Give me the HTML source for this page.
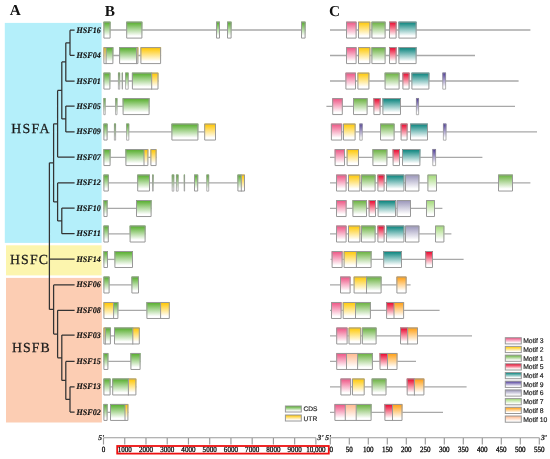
<!DOCTYPE html>
<html><head><meta charset="utf-8"><style>
html,body{margin:0;padding:0;background:#fff;}
body{width:550px;height:459px;overflow:hidden;font-family:"Liberation Sans",sans-serif;}
svg{display:block;will-change:transform;text-rendering:geometricPrecision;}
</style></head><body>
<svg width="550" height="459" viewBox="0 0 550 459">
<defs><linearGradient id="gC" x1="0" y1="0" x2="0" y2="1"><stop offset="0" stop-color="#5fb238"/><stop offset="0.08" stop-color="#5fb238"/><stop offset="0.84" stop-color="#fff"/></linearGradient><linearGradient id="gU" x1="0" y1="0" x2="0" y2="1"><stop offset="0" stop-color="#ffc90e"/><stop offset="0.08" stop-color="#ffc90e"/><stop offset="0.84" stop-color="#fff"/></linearGradient><linearGradient id="gm3" x1="0" y1="0" x2="0" y2="1"><stop offset="0" stop-color="#ef5f8c"/><stop offset="0.08" stop-color="#ef5f8c"/><stop offset="0.84" stop-color="#fff"/></linearGradient><linearGradient id="gm2" x1="0" y1="0" x2="0" y2="1"><stop offset="0" stop-color="#ffcc14"/><stop offset="0.08" stop-color="#ffcc14"/><stop offset="0.84" stop-color="#fff"/></linearGradient><linearGradient id="gm1" x1="0" y1="0" x2="0" y2="1"><stop offset="0" stop-color="#72b64a"/><stop offset="0.08" stop-color="#72b64a"/><stop offset="0.84" stop-color="#fff"/></linearGradient><linearGradient id="gm5" x1="0" y1="0" x2="0" y2="1"><stop offset="0" stop-color="#ec1439"/><stop offset="0.08" stop-color="#ec1439"/><stop offset="0.84" stop-color="#fff"/></linearGradient><linearGradient id="gm4" x1="0" y1="0" x2="0" y2="1"><stop offset="0" stop-color="#158a84"/><stop offset="0.08" stop-color="#158a84"/><stop offset="0.84" stop-color="#fff"/></linearGradient><linearGradient id="gm9" x1="0" y1="0" x2="0" y2="1"><stop offset="0" stop-color="#5846a0"/><stop offset="0.08" stop-color="#5846a0"/><stop offset="0.84" stop-color="#fff"/></linearGradient><linearGradient id="gm6" x1="0" y1="0" x2="0" y2="1"><stop offset="0" stop-color="#a09cbe"/><stop offset="0.08" stop-color="#a09cbe"/><stop offset="0.84" stop-color="#fff"/></linearGradient><linearGradient id="gm7" x1="0" y1="0" x2="0" y2="1"><stop offset="0" stop-color="#a8dc80"/><stop offset="0.08" stop-color="#a8dc80"/><stop offset="0.84" stop-color="#fff"/></linearGradient><linearGradient id="gm8" x1="0" y1="0" x2="0" y2="1"><stop offset="0" stop-color="#ffa41f"/><stop offset="0.08" stop-color="#ffa41f"/><stop offset="0.84" stop-color="#fff"/></linearGradient><linearGradient id="gm10" x1="0" y1="0" x2="0" y2="1"><stop offset="0" stop-color="#ffbd94"/><stop offset="0.08" stop-color="#ffbd94"/><stop offset="0.84" stop-color="#fff"/></linearGradient></defs>
<rect x="4.8" y="22.9" width="96.8" height="220" fill="#b4effa"/>
<rect x="6" y="245.3" width="95.6" height="30.1" fill="#fcf5ae"/>
<rect x="6" y="277.9" width="95.9" height="144.6" fill="#fccdb3"/>
<text x="9.7" y="15.4" font-family="Liberation Serif" font-weight="bold" font-size="15.3" fill="#111">A</text>
<text x="104.8" y="15.9" font-family="Liberation Serif" font-weight="bold" font-size="15.3" fill="#111">B</text>
<text x="329.1" y="15.6" font-family="Liberation Serif" font-weight="bold" font-size="15.3" fill="#111">C</text>
<text x="11.2" y="133.1" font-family="Liberation Serif" font-size="13.8" textLength="38.3" lengthAdjust="spacing" fill="#1a1a1a" stroke="#1a1a1a" stroke-width="0.25">HSFA</text>
<text x="10" y="264.4" font-family="Liberation Serif" font-size="13.8" textLength="38" lengthAdjust="spacing" fill="#1a1a1a" stroke="#1a1a1a" stroke-width="0.25">HSFC</text>
<text x="12.1" y="352" font-family="Liberation Serif" font-size="13.8" textLength="37.6" lengthAdjust="spacing" fill="#1a1a1a" stroke="#1a1a1a" stroke-width="0.25">HSFB</text>
<path d="M70 30.2H74.6M70 55.3H74.6M65.8 81.2H74.6M65.8 106H74.6M65.8 131.9H74.6M57.6 157.1H74.6M57.6 182.9H74.6M61.8 208.1H74.6M61.8 233.7H74.6M49.4 259.2H74.6M53.6 284.9H74.6M57.6 310.3H74.6M61.8 335.1H74.6M65.8 361.4H74.6M70 386.8H74.6M70 412.1H74.6M70 30.2V55.3M65.8 42.75H70M65.8 42.75V81.2M61.8 61.98H65.8M65.8 106V131.9M61.8 118.95H65.8M61.8 61.98V118.95M57.6 90.46H61.8M57.6 90.46V157.1M53.6 123.78H57.6M61.8 208.1V233.7M57.6 220.9H61.8M57.6 182.9V220.9M53.6 201.9H57.6M53.6 123.78V201.9M49.4 162.84H53.6M70 386.8V412.1M65.8 399.45H70M65.8 361.4V399.45M61.8 380.43H65.8M61.8 335.1V380.43M57.6 357.76H61.8M57.6 310.3V357.76M53.6 334.03H57.6M53.6 284.9V334.03M49.4 309.47H53.6M49.4 162.84V309.47" stroke="#333" stroke-width="1.25" fill="none"/>
<text x="76.6" y="32.7" textLength="24.2" lengthAdjust="spacingAndGlyphs" font-family="Liberation Serif" font-weight="bold" font-style="italic" font-size="8.5" fill="#111" stroke="#111" stroke-width="0.15">HSF16</text>
<text x="76.6" y="57.8" textLength="24.2" lengthAdjust="spacingAndGlyphs" font-family="Liberation Serif" font-weight="bold" font-style="italic" font-size="8.5" fill="#111" stroke="#111" stroke-width="0.15">HSF04</text>
<text x="76.6" y="83.7" textLength="24.2" lengthAdjust="spacingAndGlyphs" font-family="Liberation Serif" font-weight="bold" font-style="italic" font-size="8.5" fill="#111" stroke="#111" stroke-width="0.15">HSF01</text>
<text x="76.6" y="108.5" textLength="24.2" lengthAdjust="spacingAndGlyphs" font-family="Liberation Serif" font-weight="bold" font-style="italic" font-size="8.5" fill="#111" stroke="#111" stroke-width="0.15">HSF05</text>
<text x="76.6" y="134.4" textLength="24.2" lengthAdjust="spacingAndGlyphs" font-family="Liberation Serif" font-weight="bold" font-style="italic" font-size="8.5" fill="#111" stroke="#111" stroke-width="0.15">HSF09</text>
<text x="76.6" y="159.6" textLength="24.2" lengthAdjust="spacingAndGlyphs" font-family="Liberation Serif" font-weight="bold" font-style="italic" font-size="8.5" fill="#111" stroke="#111" stroke-width="0.15">HSF07</text>
<text x="76.6" y="185.4" textLength="24.2" lengthAdjust="spacingAndGlyphs" font-family="Liberation Serif" font-weight="bold" font-style="italic" font-size="8.5" fill="#111" stroke="#111" stroke-width="0.15">HSF12</text>
<text x="76.6" y="210.6" textLength="24.2" lengthAdjust="spacingAndGlyphs" font-family="Liberation Serif" font-weight="bold" font-style="italic" font-size="8.5" fill="#111" stroke="#111" stroke-width="0.15">HSF10</text>
<text x="76.6" y="236.2" textLength="24.2" lengthAdjust="spacingAndGlyphs" font-family="Liberation Serif" font-weight="bold" font-style="italic" font-size="8.5" fill="#111" stroke="#111" stroke-width="0.15">HSF11</text>
<text x="76.6" y="261.7" textLength="24.2" lengthAdjust="spacingAndGlyphs" font-family="Liberation Serif" font-weight="bold" font-style="italic" font-size="8.5" fill="#111" stroke="#111" stroke-width="0.15">HSF14</text>
<text x="76.6" y="287.4" textLength="24.2" lengthAdjust="spacingAndGlyphs" font-family="Liberation Serif" font-weight="bold" font-style="italic" font-size="8.5" fill="#111" stroke="#111" stroke-width="0.15">HSF06</text>
<text x="76.6" y="312.8" textLength="24.2" lengthAdjust="spacingAndGlyphs" font-family="Liberation Serif" font-weight="bold" font-style="italic" font-size="8.5" fill="#111" stroke="#111" stroke-width="0.15">HSF08</text>
<text x="76.6" y="337.6" textLength="24.2" lengthAdjust="spacingAndGlyphs" font-family="Liberation Serif" font-weight="bold" font-style="italic" font-size="8.5" fill="#111" stroke="#111" stroke-width="0.15">HSF03</text>
<text x="76.6" y="363.9" textLength="24.2" lengthAdjust="spacingAndGlyphs" font-family="Liberation Serif" font-weight="bold" font-style="italic" font-size="8.5" fill="#111" stroke="#111" stroke-width="0.15">HSF15</text>
<text x="76.6" y="389.3" textLength="24.2" lengthAdjust="spacingAndGlyphs" font-family="Liberation Serif" font-weight="bold" font-style="italic" font-size="8.5" fill="#111" stroke="#111" stroke-width="0.15">HSF13</text>
<text x="76.6" y="414.6" textLength="24.2" lengthAdjust="spacingAndGlyphs" font-family="Liberation Serif" font-weight="bold" font-style="italic" font-size="8.5" fill="#111" stroke="#111" stroke-width="0.15">HSF02</text>
<line x1="103.4" y1="30" x2="305.6" y2="30" stroke="#a8a8a8" stroke-width="1.3"/>
<rect x="103.4" y="21.6" width="7.2" height="17" fill="url(#gC)"/><path d="M103.9 22.1H110.1V38.1H103.9Z" fill="none" stroke="#989898" stroke-width="1.0"/><rect x="126.2" y="21.6" width="16.2" height="17" fill="url(#gC)"/><path d="M126.7 22.1H141.9V38.1H126.7Z" fill="none" stroke="#989898" stroke-width="1.0"/><rect x="216" y="21.6" width="4" height="17" fill="url(#gC)"/><path d="M216.5 22.1H219.5V38.1H216.5Z" fill="none" stroke="#989898" stroke-width="1.0"/><rect x="227" y="21.6" width="4.6" height="17" fill="url(#gC)"/><path d="M227.5 22.1H231.1V38.1H227.5Z" fill="none" stroke="#989898" stroke-width="1.0"/><rect x="301" y="21.6" width="4.6" height="17" fill="url(#gC)"/><path d="M301.5 22.1H305.1V38.1H301.5Z" fill="none" stroke="#989898" stroke-width="1.0"/>
<line x1="103.4" y1="55.49" x2="161.1" y2="55.49" stroke="#a8a8a8" stroke-width="1.3"/>
<rect x="103.4" y="47.09" width="2.7" height="17" fill="url(#gU)"/><rect x="106.1" y="47.09" width="7.3" height="17" fill="url(#gC)"/><path d="M103.9 47.59H112.9V63.59H103.9ZM106.1 47.09V64.09" fill="none" stroke="#989898" stroke-width="1.0"/><rect x="119.1" y="47.09" width="17.5" height="17" fill="url(#gC)"/><rect x="136.6" y="47.09" width="1.8" height="17" fill="url(#gU)"/><path d="M119.6 47.59H137.9V63.59H119.6ZM136.6 47.09V64.09" fill="none" stroke="#989898" stroke-width="1.0"/><rect x="140.4" y="47.09" width="20.7" height="17" fill="url(#gU)"/><path d="M140.9 47.59H160.6V63.59H140.9Z" fill="none" stroke="#989898" stroke-width="1.0"/>
<line x1="103.4" y1="80.98" x2="158.5" y2="80.98" stroke="#a8a8a8" stroke-width="1.3"/>
<rect x="103.4" y="72.58" width="7" height="17" fill="url(#gC)"/><path d="M103.9 73.08H109.9V89.08H103.9Z" fill="none" stroke="#989898" stroke-width="1.0"/><rect x="118" y="72.58" width="2.1" height="17" fill="url(#gC)"/><path d="M118.38 72.95H119.72V89.2H118.38Z" fill="none" stroke="#989898" stroke-width="0.75"/><rect x="121.8" y="72.58" width="1.1" height="17" fill="url(#gC)"/><path d="M122.17 72.95H122.53V89.2H122.17Z" fill="none" stroke="#989898" stroke-width="0.75"/><rect x="125.2" y="72.58" width="3.4" height="17" fill="url(#gC)"/><path d="M125.58 72.95H128.22V89.2H125.58Z" fill="none" stroke="#989898" stroke-width="0.75"/><rect x="131.9" y="72.58" width="19.8" height="17" fill="url(#gC)"/><rect x="151.7" y="72.58" width="6.8" height="17" fill="url(#gU)"/><path d="M132.4 73.08H158V89.08H132.4ZM151.7 72.58V89.58" fill="none" stroke="#989898" stroke-width="1.0"/>
<line x1="103.4" y1="106.47" x2="149.6" y2="106.47" stroke="#a8a8a8" stroke-width="1.3"/>
<rect x="103.4" y="98.07" width="2.2" height="17" fill="url(#gC)"/><path d="M103.78 98.44H105.22V114.69H103.78Z" fill="none" stroke="#989898" stroke-width="0.75"/><rect x="115.2" y="98.07" width="2.2" height="17" fill="url(#gC)"/><path d="M115.58 98.44H117.03V114.69H115.58Z" fill="none" stroke="#989898" stroke-width="0.75"/><rect x="122.6" y="98.07" width="27" height="17" fill="url(#gC)"/><path d="M123.1 98.57H149.1V114.57H123.1Z" fill="none" stroke="#989898" stroke-width="1.0"/>
<line x1="103.4" y1="131.96" x2="216" y2="131.96" stroke="#a8a8a8" stroke-width="1.3"/>
<rect x="103.4" y="123.56" width="4.2" height="17" fill="url(#gC)"/><path d="M103.9 124.06H107.1V140.06H103.9Z" fill="none" stroke="#989898" stroke-width="1.0"/><rect x="114" y="123.56" width="2" height="17" fill="url(#gC)"/><path d="M114.38 123.94H115.62V140.19H114.38Z" fill="none" stroke="#989898" stroke-width="0.75"/><rect x="126.2" y="123.56" width="3" height="17" fill="url(#gC)"/><path d="M126.58 123.94H128.82V140.19H126.58Z" fill="none" stroke="#989898" stroke-width="0.75"/><rect x="171.4" y="123.56" width="27" height="17" fill="url(#gC)"/><path d="M171.9 124.06H197.9V140.06H171.9Z" fill="none" stroke="#989898" stroke-width="1.0"/><rect x="204.2" y="123.56" width="11.8" height="17" fill="url(#gU)"/><path d="M204.7 124.06H215.5V140.06H204.7Z" fill="none" stroke="#989898" stroke-width="1.0"/>
<line x1="103.4" y1="157.45" x2="156.6" y2="157.45" stroke="#a8a8a8" stroke-width="1.3"/>
<rect x="103.4" y="149.05" width="7.2" height="17" fill="url(#gC)"/><path d="M103.9 149.55H110.1V165.55H103.9Z" fill="none" stroke="#989898" stroke-width="1.0"/><rect x="125.4" y="149.05" width="18.6" height="17" fill="url(#gC)"/><rect x="144" y="149.05" width="4.4" height="17" fill="url(#gU)"/><path d="M125.9 149.55H147.9V165.55H125.9ZM144 149.05V166.05" fill="none" stroke="#989898" stroke-width="1.0"/><rect x="150.4" y="149.05" width="6.2" height="17" fill="url(#gU)"/><path d="M150.9 149.55H156.1V165.55H150.9Z" fill="none" stroke="#989898" stroke-width="1.0"/>
<line x1="103.4" y1="182.94" x2="245" y2="182.94" stroke="#a8a8a8" stroke-width="1.3"/>
<rect x="103.4" y="174.54" width="5.4" height="17" fill="url(#gC)"/><path d="M103.9 175.04H108.3V191.04H103.9Z" fill="none" stroke="#989898" stroke-width="1.0"/><rect x="137.2" y="174.54" width="12.8" height="17" fill="url(#gC)"/><path d="M137.7 175.04H149.5V191.04H137.7Z" fill="none" stroke="#989898" stroke-width="1.0"/><rect x="152.2" y="174.54" width="1.4" height="17" fill="url(#gC)"/><path d="M152.57 174.91H153.22V191.16H152.57Z" fill="none" stroke="#989898" stroke-width="0.75"/><rect x="171.8" y="174.54" width="2.4" height="17" fill="url(#gC)"/><path d="M172.18 174.91H173.82V191.16H172.18Z" fill="none" stroke="#989898" stroke-width="0.75"/><rect x="176" y="174.54" width="2.5" height="17" fill="url(#gC)"/><path d="M176.38 174.91H178.12V191.16H176.38Z" fill="none" stroke="#989898" stroke-width="0.75"/><rect x="183.8" y="174.54" width="1.2" height="17" fill="url(#gC)"/><path d="M184.18 174.91H184.62V191.16H184.18Z" fill="none" stroke="#989898" stroke-width="0.75"/><rect x="194" y="174.54" width="4.2" height="17" fill="url(#gC)"/><path d="M194.5 175.04H197.7V191.04H194.5Z" fill="none" stroke="#989898" stroke-width="1.0"/><rect x="206.4" y="174.54" width="2.7" height="17" fill="url(#gC)"/><path d="M206.78 174.91H208.72V191.16H206.78Z" fill="none" stroke="#989898" stroke-width="0.75"/><rect x="237.4" y="174.54" width="3.9" height="17" fill="url(#gC)"/><rect x="241.3" y="174.54" width="3.7" height="17" fill="url(#gU)"/><path d="M237.9 175.04H244.5V191.04H237.9ZM241.3 174.54V191.54" fill="none" stroke="#989898" stroke-width="1.0"/>
<line x1="103.4" y1="208.43" x2="151.6" y2="208.43" stroke="#a8a8a8" stroke-width="1.3"/>
<rect x="103.4" y="200.03" width="4.2" height="17" fill="url(#gC)"/><path d="M103.9 200.53H107.1V216.53H103.9Z" fill="none" stroke="#989898" stroke-width="1.0"/><rect x="136" y="200.03" width="15.6" height="17" fill="url(#gC)"/><path d="M136.5 200.53H151.1V216.53H136.5Z" fill="none" stroke="#989898" stroke-width="1.0"/>
<line x1="103.4" y1="233.92" x2="145.6" y2="233.92" stroke="#a8a8a8" stroke-width="1.3"/>
<rect x="103.4" y="225.52" width="5.4" height="17" fill="url(#gC)"/><path d="M103.9 226.02H108.3V242.02H103.9Z" fill="none" stroke="#989898" stroke-width="1.0"/><rect x="129.6" y="225.52" width="16" height="17" fill="url(#gC)"/><path d="M130.1 226.02H145.1V242.02H130.1Z" fill="none" stroke="#989898" stroke-width="1.0"/>
<line x1="103.4" y1="259.41" x2="133" y2="259.41" stroke="#a8a8a8" stroke-width="1.3"/>
<rect x="103.4" y="251.01" width="4.6" height="17" fill="url(#gC)"/><path d="M103.9 251.51H107.5V267.51H103.9Z" fill="none" stroke="#989898" stroke-width="1.0"/><rect x="114.4" y="251.01" width="18.6" height="17" fill="url(#gC)"/><path d="M114.9 251.51H132.5V267.51H114.9Z" fill="none" stroke="#989898" stroke-width="1.0"/>
<line x1="103.4" y1="284.9" x2="139" y2="284.9" stroke="#a8a8a8" stroke-width="1.3"/>
<rect x="103.4" y="276.5" width="6.2" height="17" fill="url(#gC)"/><path d="M103.9 277H109.1V293H103.9Z" fill="none" stroke="#989898" stroke-width="1.0"/><rect x="131.4" y="276.5" width="7.6" height="17" fill="url(#gC)"/><path d="M131.9 277H138.5V293H131.9Z" fill="none" stroke="#989898" stroke-width="1.0"/>
<line x1="103.4" y1="310.39" x2="169.8" y2="310.39" stroke="#a8a8a8" stroke-width="1.3"/>
<rect x="103.4" y="301.99" width="10.2" height="17" fill="url(#gU)"/><rect x="113.6" y="301.99" width="4.8" height="17" fill="url(#gC)"/><path d="M103.9 302.49H117.9V318.49H103.9ZM113.6 301.99V318.99" fill="none" stroke="#989898" stroke-width="1.0"/><rect x="146.4" y="301.99" width="14.2" height="17" fill="url(#gC)"/><rect x="160.6" y="301.99" width="9.2" height="17" fill="url(#gU)"/><path d="M146.9 302.49H169.3V318.49H146.9ZM160.6 301.99V318.99" fill="none" stroke="#989898" stroke-width="1.0"/>
<line x1="103.4" y1="335.88" x2="139.8" y2="335.88" stroke="#a8a8a8" stroke-width="1.3"/>
<rect x="103.4" y="327.48" width="1.9" height="17" fill="url(#gU)"/><rect x="105.3" y="327.48" width="5.6" height="17" fill="url(#gC)"/><path d="M103.9 327.98H110.4V343.98H103.9ZM105.3 327.48V344.48" fill="none" stroke="#989898" stroke-width="1.0"/><rect x="114" y="327.48" width="18.8" height="17" fill="url(#gC)"/><rect x="132.8" y="327.48" width="7" height="17" fill="url(#gU)"/><path d="M114.5 327.98H139.3V343.98H114.5ZM132.8 327.48V344.48" fill="none" stroke="#989898" stroke-width="1.0"/>
<line x1="103.4" y1="361.37" x2="140.6" y2="361.37" stroke="#a8a8a8" stroke-width="1.3"/>
<rect x="103.4" y="352.97" width="5" height="17" fill="url(#gC)"/><path d="M103.9 353.47H107.9V369.47H103.9Z" fill="none" stroke="#989898" stroke-width="1.0"/><rect x="130.4" y="352.97" width="10.2" height="17" fill="url(#gC)"/><path d="M130.9 353.47H140.1V369.47H130.9Z" fill="none" stroke="#989898" stroke-width="1.0"/>
<line x1="103.4" y1="386.86" x2="136.4" y2="386.86" stroke="#a8a8a8" stroke-width="1.3"/>
<rect x="103.4" y="378.46" width="7.2" height="17" fill="url(#gC)"/><path d="M103.9 378.96H110.1V394.96H103.9Z" fill="none" stroke="#989898" stroke-width="1.0"/><rect x="112.2" y="378.46" width="16.2" height="17" fill="url(#gC)"/><rect x="128.4" y="378.46" width="8" height="17" fill="url(#gU)"/><path d="M112.7 378.96H135.9V394.96H112.7ZM128.4 378.46V395.46" fill="none" stroke="#989898" stroke-width="1.0"/>
<line x1="103.4" y1="412.35" x2="128.4" y2="412.35" stroke="#a8a8a8" stroke-width="1.3"/>
<rect x="103.4" y="403.95" width="4.2" height="17" fill="url(#gC)"/><path d="M103.9 404.45H107.1V420.45H103.9Z" fill="none" stroke="#989898" stroke-width="1.0"/><rect x="110" y="403.95" width="15" height="17" fill="url(#gC)"/><rect x="125" y="403.95" width="3.4" height="17" fill="url(#gU)"/><path d="M110.5 404.45H127.9V420.45H110.5ZM125 403.95V420.95" fill="none" stroke="#989898" stroke-width="1.0"/>
<line x1="330" y1="30" x2="530.4" y2="30" stroke="#a8a8a8" stroke-width="1.3"/>
<rect x="346" y="21.6" width="10.6" height="17" fill="url(#gm3)"/><path d="M346.5 22.1H356.1V38.1H346.5Z" fill="none" stroke="#989898" stroke-width="1.0"/><rect x="358" y="21.6" width="12.4" height="17" fill="url(#gm2)"/><path d="M358.5 22.1H369.9V38.1H358.5Z" fill="none" stroke="#989898" stroke-width="1.0"/><rect x="371.4" y="21.6" width="14.2" height="17" fill="url(#gm1)"/><path d="M371.9 22.1H385.1V38.1H371.9Z" fill="none" stroke="#989898" stroke-width="1.0"/><rect x="389" y="21.6" width="7.6" height="17" fill="url(#gm5)"/><path d="M389.5 22.1H396.1V38.1H389.5Z" fill="none" stroke="#989898" stroke-width="1.0"/><rect x="398.4" y="21.6" width="18.2" height="17" fill="url(#gm4)"/><path d="M398.9 22.1H416.1V38.1H398.9Z" fill="none" stroke="#989898" stroke-width="1.0"/>
<line x1="330" y1="55.49" x2="475" y2="55.49" stroke="#a8a8a8" stroke-width="1.3"/>
<rect x="346" y="47.09" width="10.6" height="17" fill="url(#gm3)"/><path d="M346.5 47.59H356.1V63.59H346.5Z" fill="none" stroke="#989898" stroke-width="1.0"/><rect x="358" y="47.09" width="12.4" height="17" fill="url(#gm2)"/><path d="M358.5 47.59H369.9V63.59H358.5Z" fill="none" stroke="#989898" stroke-width="1.0"/><rect x="371.4" y="47.09" width="14.2" height="17" fill="url(#gm1)"/><path d="M371.9 47.59H385.1V63.59H371.9Z" fill="none" stroke="#989898" stroke-width="1.0"/><rect x="389" y="47.09" width="7.6" height="17" fill="url(#gm5)"/><path d="M389.5 47.59H396.1V63.59H389.5Z" fill="none" stroke="#989898" stroke-width="1.0"/><rect x="398.4" y="47.09" width="18.2" height="17" fill="url(#gm4)"/><path d="M398.9 47.59H416.1V63.59H398.9Z" fill="none" stroke="#989898" stroke-width="1.0"/>
<line x1="330" y1="80.98" x2="518.6" y2="80.98" stroke="#a8a8a8" stroke-width="1.3"/>
<rect x="345.4" y="72.58" width="10.6" height="17" fill="url(#gm3)"/><path d="M345.9 73.08H355.5V89.08H345.9Z" fill="none" stroke="#989898" stroke-width="1.0"/><rect x="357.4" y="72.58" width="12" height="17" fill="url(#gm2)"/><path d="M357.9 73.08H368.9V89.08H357.9Z" fill="none" stroke="#989898" stroke-width="1.0"/><rect x="384.6" y="72.58" width="15" height="17" fill="url(#gm1)"/><path d="M385.1 73.08H399.1V89.08H385.1Z" fill="none" stroke="#989898" stroke-width="1.0"/><rect x="402.4" y="72.58" width="7.2" height="17" fill="url(#gm5)"/><path d="M402.9 73.08H409.1V89.08H402.9Z" fill="none" stroke="#989898" stroke-width="1.0"/><rect x="411.4" y="72.58" width="18" height="17" fill="url(#gm4)"/><path d="M411.9 73.08H428.9V89.08H411.9Z" fill="none" stroke="#989898" stroke-width="1.0"/><rect x="442.4" y="72.58" width="3.6" height="17" fill="url(#gm9)"/><path d="M442.77 72.95H445.62V89.2H442.77Z" fill="none" stroke="#989898" stroke-width="0.75"/>
<line x1="326.4" y1="106.47" x2="515" y2="106.47" stroke="#a8a8a8" stroke-width="1.3"/>
<rect x="332.2" y="98.07" width="10.6" height="17" fill="url(#gm3)"/><path d="M332.7 98.57H342.3V114.57H332.7Z" fill="none" stroke="#989898" stroke-width="1.0"/><rect x="353" y="98.07" width="14.6" height="17" fill="url(#gm1)"/><path d="M353.5 98.57H367.1V114.57H353.5Z" fill="none" stroke="#989898" stroke-width="1.0"/><rect x="373.4" y="98.07" width="7.2" height="17" fill="url(#gm5)"/><path d="M373.9 98.57H380.1V114.57H373.9Z" fill="none" stroke="#989898" stroke-width="1.0"/><rect x="382.4" y="98.07" width="18.6" height="17" fill="url(#gm4)"/><path d="M382.9 98.57H400.5V114.57H382.9Z" fill="none" stroke="#989898" stroke-width="1.0"/><rect x="416" y="98.07" width="3" height="17" fill="url(#gm9)"/><path d="M416.38 98.44H418.62V114.69H416.38Z" fill="none" stroke="#989898" stroke-width="0.75"/>
<line x1="330.9" y1="131.96" x2="537" y2="131.96" stroke="#a8a8a8" stroke-width="1.3"/>
<rect x="330.9" y="123.56" width="11.3" height="17" fill="url(#gm3)"/><path d="M331.4 124.06H341.7V140.06H331.4Z" fill="none" stroke="#989898" stroke-width="1.0"/><rect x="343" y="123.56" width="12.6" height="17" fill="url(#gm2)"/><path d="M343.5 124.06H355.1V140.06H343.5Z" fill="none" stroke="#989898" stroke-width="1.0"/><rect x="359.4" y="123.56" width="3.2" height="17" fill="url(#gm9)"/><path d="M359.77 123.94H362.23V140.19H359.77Z" fill="none" stroke="#989898" stroke-width="0.75"/><rect x="380" y="123.56" width="14.6" height="17" fill="url(#gm1)"/><path d="M380.5 124.06H394.1V140.06H380.5Z" fill="none" stroke="#989898" stroke-width="1.0"/><rect x="400.6" y="123.56" width="7" height="17" fill="url(#gm5)"/><path d="M401.1 124.06H407.1V140.06H401.1Z" fill="none" stroke="#989898" stroke-width="1.0"/><rect x="410" y="123.56" width="18" height="17" fill="url(#gm4)"/><path d="M410.5 124.06H427.5V140.06H410.5Z" fill="none" stroke="#989898" stroke-width="1.0"/><rect x="443" y="123.56" width="3.4" height="17" fill="url(#gm9)"/><path d="M443.38 123.94H446.02V140.19H443.38Z" fill="none" stroke="#989898" stroke-width="0.75"/>
<line x1="330" y1="157.45" x2="482.4" y2="157.45" stroke="#a8a8a8" stroke-width="1.3"/>
<rect x="334.6" y="149.05" width="10.4" height="17" fill="url(#gm3)"/><path d="M335.1 149.55H344.5V165.55H335.1Z" fill="none" stroke="#989898" stroke-width="1.0"/><rect x="346.6" y="149.05" width="12.4" height="17" fill="url(#gm2)"/><path d="M347.1 149.55H358.5V165.55H347.1Z" fill="none" stroke="#989898" stroke-width="1.0"/><rect x="372.4" y="149.05" width="15" height="17" fill="url(#gm1)"/><path d="M372.9 149.55H386.9V165.55H372.9Z" fill="none" stroke="#989898" stroke-width="1.0"/><rect x="392.6" y="149.05" width="7.4" height="17" fill="url(#gm5)"/><path d="M393.1 149.55H399.5V165.55H393.1Z" fill="none" stroke="#989898" stroke-width="1.0"/><rect x="402" y="149.05" width="18.4" height="17" fill="url(#gm4)"/><path d="M402.5 149.55H419.9V165.55H402.5Z" fill="none" stroke="#989898" stroke-width="1.0"/><rect x="432.4" y="149.05" width="3.6" height="17" fill="url(#gm9)"/><path d="M432.77 149.42H435.62V165.67H432.77Z" fill="none" stroke="#989898" stroke-width="0.75"/>
<line x1="330" y1="182.94" x2="530.4" y2="182.94" stroke="#a8a8a8" stroke-width="1.3"/>
<rect x="336" y="174.54" width="10.6" height="17" fill="url(#gm3)"/><path d="M336.5 175.04H346.1V191.04H336.5Z" fill="none" stroke="#989898" stroke-width="1.0"/><rect x="348" y="174.54" width="12.4" height="17" fill="url(#gm2)"/><path d="M348.5 175.04H359.9V191.04H348.5Z" fill="none" stroke="#989898" stroke-width="1.0"/><rect x="361" y="174.54" width="14.6" height="17" fill="url(#gm1)"/><path d="M361.5 175.04H375.1V191.04H361.5Z" fill="none" stroke="#989898" stroke-width="1.0"/><rect x="377.4" y="174.54" width="7.2" height="17" fill="url(#gm5)"/><path d="M377.9 175.04H384.1V191.04H377.9Z" fill="none" stroke="#989898" stroke-width="1.0"/><rect x="386" y="174.54" width="18.4" height="17" fill="url(#gm4)"/><path d="M386.5 175.04H403.9V191.04H386.5Z" fill="none" stroke="#989898" stroke-width="1.0"/><rect x="405" y="174.54" width="14.4" height="17" fill="url(#gm6)"/><path d="M405.5 175.04H418.9V191.04H405.5Z" fill="none" stroke="#989898" stroke-width="1.0"/><rect x="427.4" y="174.54" width="9.6" height="17" fill="url(#gm7)"/><path d="M427.9 175.04H436.5V191.04H427.9Z" fill="none" stroke="#989898" stroke-width="1.0"/><rect x="498" y="174.54" width="15" height="17" fill="url(#gm1)"/><path d="M498.5 175.04H512.5V191.04H498.5Z" fill="none" stroke="#989898" stroke-width="1.0"/>
<line x1="330" y1="208.43" x2="442.4" y2="208.43" stroke="#a8a8a8" stroke-width="1.3"/>
<rect x="336" y="200.03" width="10.6" height="17" fill="url(#gm3)"/><path d="M336.5 200.53H346.1V216.53H336.5Z" fill="none" stroke="#989898" stroke-width="1.0"/><rect x="352.4" y="200.03" width="14.6" height="17" fill="url(#gm1)"/><path d="M352.9 200.53H366.5V216.53H352.9Z" fill="none" stroke="#989898" stroke-width="1.0"/><rect x="368.6" y="200.03" width="7.4" height="17" fill="url(#gm5)"/><path d="M369.1 200.53H375.5V216.53H369.1Z" fill="none" stroke="#989898" stroke-width="1.0"/><rect x="377.6" y="200.03" width="18.4" height="17" fill="url(#gm4)"/><path d="M378.1 200.53H395.5V216.53H378.1Z" fill="none" stroke="#989898" stroke-width="1.0"/><rect x="396.6" y="200.03" width="14.4" height="17" fill="url(#gm6)"/><path d="M397.1 200.53H410.5V216.53H397.1Z" fill="none" stroke="#989898" stroke-width="1.0"/><rect x="426" y="200.03" width="9" height="17" fill="url(#gm7)"/><path d="M426.5 200.53H434.5V216.53H426.5Z" fill="none" stroke="#989898" stroke-width="1.0"/>
<line x1="330" y1="233.92" x2="451.4" y2="233.92" stroke="#a8a8a8" stroke-width="1.3"/>
<rect x="336" y="225.52" width="10.6" height="17" fill="url(#gm3)"/><path d="M336.5 226.02H346.1V242.02H336.5Z" fill="none" stroke="#989898" stroke-width="1.0"/><rect x="348" y="225.52" width="12.4" height="17" fill="url(#gm2)"/><path d="M348.5 226.02H359.9V242.02H348.5Z" fill="none" stroke="#989898" stroke-width="1.0"/><rect x="361" y="225.52" width="14.6" height="17" fill="url(#gm1)"/><path d="M361.5 226.02H375.1V242.02H361.5Z" fill="none" stroke="#989898" stroke-width="1.0"/><rect x="377.4" y="225.52" width="7.2" height="17" fill="url(#gm5)"/><path d="M377.9 226.02H384.1V242.02H377.9Z" fill="none" stroke="#989898" stroke-width="1.0"/><rect x="386" y="225.52" width="18.4" height="17" fill="url(#gm4)"/><path d="M386.5 226.02H403.9V242.02H386.5Z" fill="none" stroke="#989898" stroke-width="1.0"/><rect x="405" y="225.52" width="14.4" height="17" fill="url(#gm6)"/><path d="M405.5 226.02H418.9V242.02H405.5Z" fill="none" stroke="#989898" stroke-width="1.0"/><rect x="435" y="225.52" width="9.4" height="17" fill="url(#gm7)"/><path d="M435.5 226.02H443.9V242.02H435.5Z" fill="none" stroke="#989898" stroke-width="1.0"/>
<line x1="330.6" y1="259.41" x2="463.6" y2="259.41" stroke="#a8a8a8" stroke-width="1.3"/>
<rect x="331.6" y="251.01" width="11" height="17" fill="url(#gm3)"/><path d="M332.1 251.51H342.1V267.51H332.1Z" fill="none" stroke="#989898" stroke-width="1.0"/><rect x="343.6" y="251.01" width="12.8" height="17" fill="url(#gm2)"/><rect x="356.4" y="251.01" width="15.2" height="17" fill="url(#gm1)"/><path d="M344.1 251.51H371.1V267.51H344.1ZM356.4 251.01V268.01" fill="none" stroke="#989898" stroke-width="1.0"/><rect x="383.2" y="251.01" width="18.8" height="17" fill="url(#gm4)"/><path d="M383.7 251.51H401.5V267.51H383.7Z" fill="none" stroke="#989898" stroke-width="1.0"/><rect x="425.2" y="251.01" width="7.8" height="17" fill="url(#gm5)"/><path d="M425.7 251.51H432.5V267.51H425.7Z" fill="none" stroke="#989898" stroke-width="1.0"/>
<line x1="330" y1="284.9" x2="410.6" y2="284.9" stroke="#a8a8a8" stroke-width="1.3"/>
<rect x="340" y="276.5" width="10.6" height="17" fill="url(#gm3)"/><path d="M340.5 277H350.1V293H340.5Z" fill="none" stroke="#989898" stroke-width="1.0"/><rect x="353.6" y="276.5" width="12.9" height="17" fill="url(#gm2)"/><rect x="366.5" y="276.5" width="15.1" height="17" fill="url(#gm1)"/><path d="M354.1 277H381.1V293H354.1ZM366.5 276.5V293.5" fill="none" stroke="#989898" stroke-width="1.0"/><rect x="396.4" y="276.5" width="10.2" height="17" fill="url(#gm8)"/><path d="M396.9 277H406.1V293H396.9Z" fill="none" stroke="#989898" stroke-width="1.0"/>
<line x1="330" y1="310.39" x2="439.6" y2="310.39" stroke="#a8a8a8" stroke-width="1.3"/>
<rect x="331" y="301.99" width="10.6" height="17" fill="url(#gm3)"/><path d="M331.5 302.49H341.1V318.49H331.5Z" fill="none" stroke="#989898" stroke-width="1.0"/><rect x="342.7" y="301.99" width="12.8" height="17" fill="url(#gm2)"/><rect x="355.5" y="301.99" width="15.4" height="17" fill="url(#gm1)"/><path d="M343.2 302.49H370.4V318.49H343.2ZM355.5 301.99V318.99" fill="none" stroke="#989898" stroke-width="1.0"/><rect x="386.1" y="301.99" width="7.9" height="17" fill="url(#gm5)"/><rect x="394" y="301.99" width="10.1" height="17" fill="url(#gm8)"/><path d="M386.6 302.49H403.6V318.49H386.6ZM394 301.99V318.99" fill="none" stroke="#989898" stroke-width="1.0"/>
<line x1="330" y1="335.88" x2="472" y2="335.88" stroke="#a8a8a8" stroke-width="1.3"/>
<rect x="336.2" y="327.48" width="11.4" height="17" fill="url(#gm3)"/><path d="M336.7 327.98H347.1V343.98H336.7Z" fill="none" stroke="#989898" stroke-width="1.0"/><rect x="348.5" y="327.48" width="12.7" height="17" fill="url(#gm2)"/><path d="M349 327.98H360.7V343.98H349Z" fill="none" stroke="#989898" stroke-width="1.0"/><rect x="361.9" y="327.48" width="14.7" height="17" fill="url(#gm1)"/><path d="M362.4 327.98H376.1V343.98H362.4Z" fill="none" stroke="#989898" stroke-width="1.0"/><rect x="400" y="327.48" width="7.7" height="17" fill="url(#gm5)"/><rect x="407.7" y="327.48" width="10.3" height="17" fill="url(#gm8)"/><path d="M400.5 327.98H417.5V343.98H400.5ZM407.7 327.48V344.48" fill="none" stroke="#989898" stroke-width="1.0"/>
<line x1="330" y1="361.37" x2="416" y2="361.37" stroke="#a8a8a8" stroke-width="1.3"/>
<rect x="336.2" y="352.97" width="10.3" height="17" fill="url(#gm3)"/><rect x="346.5" y="352.97" width="11.1" height="17" fill="url(#gm10)"/><rect x="357.6" y="352.97" width="15.3" height="17" fill="url(#gm1)"/><path d="M336.7 353.47H372.4V369.47H336.7ZM346.5 352.97V369.97M357.6 352.97V369.97" fill="none" stroke="#989898" stroke-width="1.0"/><rect x="379.5" y="352.97" width="8" height="17" fill="url(#gm5)"/><rect x="387.5" y="352.97" width="10" height="17" fill="url(#gm8)"/><path d="M380 353.47H397V369.47H380ZM387.5 352.97V369.97" fill="none" stroke="#989898" stroke-width="1.0"/>
<line x1="330" y1="386.86" x2="466.6" y2="386.86" stroke="#a8a8a8" stroke-width="1.3"/>
<rect x="340.4" y="378.46" width="10.7" height="17" fill="url(#gm3)"/><path d="M340.9 378.96H350.6V394.96H340.9Z" fill="none" stroke="#989898" stroke-width="1.0"/><rect x="352" y="378.46" width="12.7" height="17" fill="url(#gm2)"/><path d="M352.5 378.96H364.2V394.96H352.5Z" fill="none" stroke="#989898" stroke-width="1.0"/><rect x="371.6" y="378.46" width="14.9" height="17" fill="url(#gm1)"/><path d="M372.1 378.96H386V394.96H372.1Z" fill="none" stroke="#989898" stroke-width="1.0"/><rect x="406.7" y="378.46" width="7.7" height="17" fill="url(#gm5)"/><rect x="414.4" y="378.46" width="10" height="17" fill="url(#gm8)"/><path d="M407.2 378.96H423.9V394.96H407.2ZM414.4 378.46V395.46" fill="none" stroke="#989898" stroke-width="1.0"/>
<line x1="330" y1="412.35" x2="443" y2="412.35" stroke="#a8a8a8" stroke-width="1.3"/>
<rect x="334.4" y="403.95" width="10.9" height="17" fill="url(#gm3)"/><rect x="345.3" y="403.95" width="10.9" height="17" fill="url(#gm10)"/><rect x="356.2" y="403.95" width="15.4" height="17" fill="url(#gm1)"/><path d="M334.9 404.45H371.1V420.45H334.9ZM345.3 403.95V420.95M356.2 403.95V420.95" fill="none" stroke="#989898" stroke-width="1.0"/><rect x="384.4" y="403.95" width="8.1" height="17" fill="url(#gm5)"/><rect x="392.5" y="403.95" width="10" height="17" fill="url(#gm8)"/><path d="M384.9 404.45H402V420.45H384.9ZM392.5 403.95V420.95" fill="none" stroke="#989898" stroke-width="1.0"/>
<rect x="285.4" y="406" width="15.9" height="6" fill="url(#gC)" stroke="#989898" stroke-width="1.0"/>
<rect x="285.4" y="415" width="15.9" height="6" fill="url(#gU)" stroke="#989898" stroke-width="1.0"/>
<text x="303.6" y="411" font-family="Liberation Sans" font-size="6.6" fill="#222" stroke="#222" stroke-width="0.18">CDS</text>
<text x="303.6" y="420.6" font-family="Liberation Sans" font-size="6.6" fill="#222" stroke="#222" stroke-width="0.18">UTR</text>
<rect x="505.3" y="337.7" width="16" height="6.2" fill="url(#gm3)" stroke="#989898" stroke-width="1.0"/>
<text x="523.2" y="343.2" font-family="Liberation Sans" font-size="6.8" fill="#222" stroke="#222" stroke-width="0.18">Motif 3</text>
<rect x="505.3" y="346.4" width="16" height="6.2" fill="url(#gm2)" stroke="#989898" stroke-width="1.0"/>
<text x="523.2" y="351.9" font-family="Liberation Sans" font-size="6.8" fill="#222" stroke="#222" stroke-width="0.18">Motif 2</text>
<rect x="505.3" y="355.1" width="16" height="6.2" fill="url(#gm1)" stroke="#989898" stroke-width="1.0"/>
<text x="523.2" y="360.6" font-family="Liberation Sans" font-size="6.8" fill="#222" stroke="#222" stroke-width="0.18">Motif 1</text>
<rect x="505.3" y="363.8" width="16" height="6.2" fill="url(#gm5)" stroke="#989898" stroke-width="1.0"/>
<text x="523.2" y="369.3" font-family="Liberation Sans" font-size="6.8" fill="#222" stroke="#222" stroke-width="0.18">Motif 5</text>
<rect x="505.3" y="372.5" width="16" height="6.2" fill="url(#gm4)" stroke="#989898" stroke-width="1.0"/>
<text x="523.2" y="378" font-family="Liberation Sans" font-size="6.8" fill="#222" stroke="#222" stroke-width="0.18">Motif 4</text>
<rect x="505.3" y="381.2" width="16" height="6.2" fill="url(#gm9)" stroke="#989898" stroke-width="1.0"/>
<text x="523.2" y="386.7" font-family="Liberation Sans" font-size="6.8" fill="#222" stroke="#222" stroke-width="0.18">Motif 9</text>
<rect x="505.3" y="389.9" width="16" height="6.2" fill="url(#gm6)" stroke="#989898" stroke-width="1.0"/>
<text x="523.2" y="395.4" font-family="Liberation Sans" font-size="6.8" fill="#222" stroke="#222" stroke-width="0.18">Motif 6</text>
<rect x="505.3" y="398.6" width="16" height="6.2" fill="url(#gm7)" stroke="#989898" stroke-width="1.0"/>
<text x="523.2" y="404.1" font-family="Liberation Sans" font-size="6.8" fill="#222" stroke="#222" stroke-width="0.18">Motif 7</text>
<rect x="505.3" y="407.3" width="16" height="6.2" fill="url(#gm8)" stroke="#989898" stroke-width="1.0"/>
<text x="523.2" y="412.8" font-family="Liberation Sans" font-size="6.8" fill="#222" stroke="#222" stroke-width="0.18">Motif 8</text>
<rect x="505.3" y="416" width="16" height="6.2" fill="url(#gm10)" stroke="#989898" stroke-width="1.0"/>
<text x="523.2" y="421.5" font-family="Liberation Sans" font-size="6.8" fill="#222" stroke="#222" stroke-width="0.18">Motif 10</text>
<path d="M103.5 437.7H315.9M103.5 437.7V444.5M124.74 437.7V444.5M145.98 437.7V444.5M167.22 437.7V444.5M188.46 437.7V444.5M209.7 437.7V444.5M230.94 437.7V444.5M252.18 437.7V444.5M273.42 437.7V444.5M294.66 437.7V444.5M315.9 437.7V444.5" stroke="#9a9a9a" stroke-width="1.15" fill="none"/>
<text transform="translate(103.5 452.4) scale(1 1.12)" text-anchor="middle" font-family="Liberation Serif" font-size="7.1" fill="#111" stroke="#111" stroke-width="0.28">0</text>
<text transform="translate(124.74 452.4) scale(1 1.12)" text-anchor="middle" font-family="Liberation Serif" font-size="7.1" fill="#111" stroke="#111" stroke-width="0.28">1000</text>
<text transform="translate(145.98 452.4) scale(1 1.12)" text-anchor="middle" font-family="Liberation Serif" font-size="7.1" fill="#111" stroke="#111" stroke-width="0.28">2000</text>
<text transform="translate(167.22 452.4) scale(1 1.12)" text-anchor="middle" font-family="Liberation Serif" font-size="7.1" fill="#111" stroke="#111" stroke-width="0.28">3000</text>
<text transform="translate(188.46 452.4) scale(1 1.12)" text-anchor="middle" font-family="Liberation Serif" font-size="7.1" fill="#111" stroke="#111" stroke-width="0.28">4000</text>
<text transform="translate(209.7 452.4) scale(1 1.12)" text-anchor="middle" font-family="Liberation Serif" font-size="7.1" fill="#111" stroke="#111" stroke-width="0.28">5000</text>
<text transform="translate(230.94 452.4) scale(1 1.12)" text-anchor="middle" font-family="Liberation Serif" font-size="7.1" fill="#111" stroke="#111" stroke-width="0.28">6000</text>
<text transform="translate(252.18 452.4) scale(1 1.12)" text-anchor="middle" font-family="Liberation Serif" font-size="7.1" fill="#111" stroke="#111" stroke-width="0.28">7000</text>
<text transform="translate(273.42 452.4) scale(1 1.12)" text-anchor="middle" font-family="Liberation Serif" font-size="7.1" fill="#111" stroke="#111" stroke-width="0.28">8000</text>
<text transform="translate(294.66 452.4) scale(1 1.12)" text-anchor="middle" font-family="Liberation Serif" font-size="7.1" fill="#111" stroke="#111" stroke-width="0.28">9000</text>
<text transform="translate(315.9 452.4) scale(1 1.12)" text-anchor="middle" font-family="Liberation Serif" font-size="7.1" fill="#111" stroke="#111" stroke-width="0.28">10,000</text>
<rect x="117.2" y="446" width="211.6" height="7.6" fill="none" stroke="#ee1111" stroke-width="1.8"/>
<text x="98.2" y="439.5" font-family="Liberation Serif" font-weight="bold" font-style="italic" font-size="7.6" fill="#333" stroke="#333" stroke-width="0.3">5'</text>
<text x="317.6" y="439.5" font-family="Liberation Serif" font-weight="bold" font-style="italic" font-size="7.6" fill="#333" stroke="#333" stroke-width="0.3">3'</text>
<text x="325.2" y="439.5" font-family="Liberation Serif" font-weight="bold" font-style="italic" font-size="7.6" fill="#333" stroke="#333" stroke-width="0.3">5'</text>
<text x="541" y="439.5" font-family="Liberation Serif" font-weight="bold" font-style="italic" font-size="7.6" fill="#333" stroke="#333" stroke-width="0.3">3'</text>
<path d="M330.3 437.7H539.4M330.3 437.7V444.5M349.3 437.7V444.5M368.3 437.7V444.5M387.3 437.7V444.5M406.3 437.7V444.5M425.3 437.7V444.5M444.3 437.7V444.5M463.3 437.7V444.5M482.3 437.7V444.5M501.3 437.7V444.5M520.3 437.7V444.5M539.3 437.7V444.5" stroke="#9a9a9a" stroke-width="1.15" fill="none"/>
<text transform="translate(331.3 452.4) scale(1 1.12)" text-anchor="middle" font-family="Liberation Serif" font-size="7.1" fill="#111" stroke="#111" stroke-width="0.28">0</text>
<text transform="translate(349.3 452.4) scale(1 1.12)" text-anchor="middle" font-family="Liberation Serif" font-size="7.1" fill="#111" stroke="#111" stroke-width="0.28">50</text>
<text transform="translate(368.3 452.4) scale(1 1.12)" text-anchor="middle" font-family="Liberation Serif" font-size="7.1" fill="#111" stroke="#111" stroke-width="0.28">100</text>
<text transform="translate(387.3 452.4) scale(1 1.12)" text-anchor="middle" font-family="Liberation Serif" font-size="7.1" fill="#111" stroke="#111" stroke-width="0.28">150</text>
<text transform="translate(406.3 452.4) scale(1 1.12)" text-anchor="middle" font-family="Liberation Serif" font-size="7.1" fill="#111" stroke="#111" stroke-width="0.28">200</text>
<text transform="translate(425.3 452.4) scale(1 1.12)" text-anchor="middle" font-family="Liberation Serif" font-size="7.1" fill="#111" stroke="#111" stroke-width="0.28">250</text>
<text transform="translate(444.3 452.4) scale(1 1.12)" text-anchor="middle" font-family="Liberation Serif" font-size="7.1" fill="#111" stroke="#111" stroke-width="0.28">300</text>
<text transform="translate(463.3 452.4) scale(1 1.12)" text-anchor="middle" font-family="Liberation Serif" font-size="7.1" fill="#111" stroke="#111" stroke-width="0.28">350</text>
<text transform="translate(482.3 452.4) scale(1 1.12)" text-anchor="middle" font-family="Liberation Serif" font-size="7.1" fill="#111" stroke="#111" stroke-width="0.28">400</text>
<text transform="translate(501.3 452.4) scale(1 1.12)" text-anchor="middle" font-family="Liberation Serif" font-size="7.1" fill="#111" stroke="#111" stroke-width="0.28">450</text>
<text transform="translate(520.3 452.4) scale(1 1.12)" text-anchor="middle" font-family="Liberation Serif" font-size="7.1" fill="#111" stroke="#111" stroke-width="0.28">500</text>
<text transform="translate(539.3 452.4) scale(1 1.12)" text-anchor="middle" font-family="Liberation Serif" font-size="7.1" fill="#111" stroke="#111" stroke-width="0.28">550</text>
</svg>
</body></html>
